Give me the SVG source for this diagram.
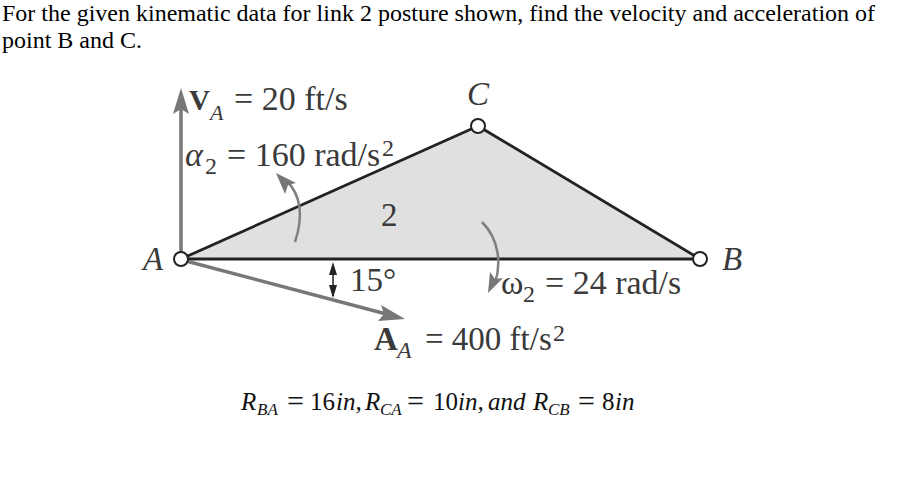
<svg xmlns="http://www.w3.org/2000/svg" width="910" height="495" viewBox="0 0 910 495">
<style>
text{font-family:"Liberation Serif",serif;fill:#3a3a3a}
.h{fill:#000;font-size:24px}
.i{font-style:italic}
.s{font-size:24px}
.l{font-size:34px}
.n{font-size:33px}
.m{fill:#111;font-size:25px}
.e{fill:#111;font-size:30px}
.b{fill:#111;font-size:17px;font-style:italic}
.v{stroke:#777;stroke-width:3.5;fill:none}
.a{stroke:#808080;stroke-width:2.5;fill:none}
.ah{fill:#777;stroke:none}
.pin{fill:#fff;stroke:#222;stroke-width:2}
</style>
<rect width="910" height="495" fill="#fff"/>
<text class="h" x="2" y="21">For the given kinematic data for link 2 posture shown, find the velocity and acceleration of</text>
<text class="h" x="2" y="48">point B and C.</text>
<g id="link-2">
<polygon points="181,259 478,126 700,259" fill="#e0e0e0" stroke="none"/>
<path d="M181,259L478,126L700,259Z" fill="none" stroke="#222" stroke-width="2.8" stroke-linejoin="round"/>
<text class="n" x="381" y="226">2</text>
</g>
<g id="connectors">
<path class="v" d="M181,255V100"/>
<path class="ah" d="M181,88L189,114L181,109L173,114Z"/>
<path class="v" d="M186,261L390,315"/>
<path class="ah" d="M405,319L378,321L384,314L381,305Z"/>
<path class="a" d="M295,242C303,218 302,196 286,180"/>
<path class="ah" d="M276,173L296,183L288,185L285,194Z"/>
<path class="a" d="M482,222C500,240 501,265 495,283"/>
<path class="ah" d="M488,293L490,272L495,279L503,278Z"/>
<path d="M333,266V296" stroke="#222" stroke-width="1.5" fill="none"/>
<path d="M333,262L337,275H329Z M333,298L337,285H329Z" fill="#222"/>
</g>
<g id="node-A"><circle class="pin" cx="181" cy="259" r="7"/><text class="i n" x="143" y="270">A</text></g>
<g id="node-B"><circle class="pin" cx="700" cy="259" r="7"/><text class="i n" x="722" y="270">B</text></g>
<g id="node-C"><circle class="pin" cx="478" cy="126" r="7"/><text class="i n" x="467" y="105">C</text></g>
<g id="labels">
<text x="189" y="110" font-weight="bold" style="font-size:29px">V</text><text class="i s" x="210" y="120" style="font-size:22px">A</text><text class="l" x="234" y="110">= 20 ft/s</text>
<text class="l i" x="185" y="166">α</text><text class="s" x="205" y="174">2</text><text class="l" x="227" y="166">= 160 rad/s</text><text class="s" x="382" y="156">2</text>
<text class="n" x="350" y="291">15°</text>
<text class="l" x="501" y="294">ω</text><text class="s" x="523" y="302">2</text><text class="l" x="545" y="294">= 24 rad/s</text>
<text class="n" x="374" y="350" font-weight="bold">A</text><text class="i s" x="397" y="358">A</text><text class="n" x="425" y="350">= 400 ft/s</text><text class="s" x="553" y="341">2</text>
</g>
<g id="equation">
<text class="m i" x="241" y="410">R</text><text class="b" x="257" y="415">BA</text>
<text class="e" x="287" y="411">=</text><text class="m" x="310" y="410">16</text><text class="m i" x="336" y="410">in,</text>
<text class="m i" x="365" y="410">R</text><text class="b" x="380" y="415">CA</text>
<text class="e" x="407" y="411">=</text><text class="m" x="433" y="410">10</text><text class="m i" x="458" y="410">in,</text><text class="m i" x="488" y="410">and</text>
<text class="m i" x="533" y="410">R</text><text class="b" x="548" y="415">CB</text>
<text class="e" x="578" y="411">=</text><text class="m" x="602" y="410">8</text><text class="m i" x="615" y="410">in</text>
</g>
</svg>
